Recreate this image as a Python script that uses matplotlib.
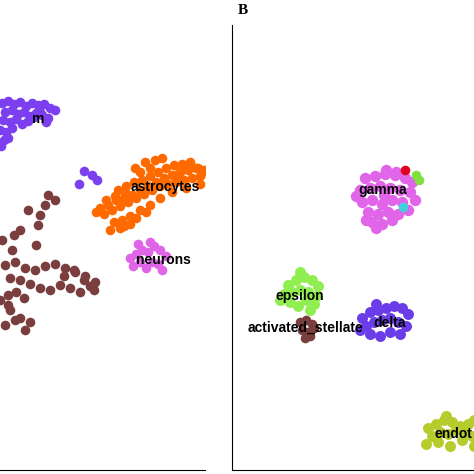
import matplotlib
matplotlib.use("Agg")
import matplotlib.pyplot as plt

# Left panel clusters (pixel-like coordinates, y downward)
purpleL_x = [2,8,14,20,26,32,38,44,50,55,5,12,18,24,30,36,42,48,3,10,16,22,28,34,40,46,0,6,12,4,1,8]
purpleL_y = [103,101,104,102,106,103,105,104,108,110,112,110,114,112,116,113,115,118,120,122,119,124,121,117,112,122,130,132,128,140,146,138]
purple_small_x = [84,92,97,79]
purple_small_y = [171,175,180,184]
orange_x = [100,108,116,124,132,140,148,156,164,172,180,188,196,204,210,104,112,120,128,136,144,152,160,168,176,184,192,200,208,
            118,126,134,142,150,158,166,174,182,190,198,114,122,130,140,150,96,106,124,136,146,160,172,186,200,
            110,120,130,115,125,135,145,155,162,140,150,178,190]
orange_y = [208,205,200,198,195,190,186,182,178,175,172,170,168,170,176,214,210,206,202,198,194,190,186,184,182,180,178,176,172,
            190,186,182,180,176,172,168,165,164,166,168,222,220,216,210,205,212,200,226,218,212,198,192,188,184,
            230,228,224,196,192,168,162,160,158,172,168,174,162]
brown_x = [5,15,25,35,45,55,65,75,85,95,10,20,30,40,50,0,8,16,24,60,70,80,90,64,74,84,94,10,20,30,5,15,25,40,28,45,38,55,48,2,12,36,20,8,14]
brown_y = [265,262,268,270,266,264,268,272,276,282,278,280,284,288,290,300,295,292,298,285,288,292,286,276,270,280,290,310,318,322,325,320,330,215,210,205,225,200,195,240,250,245,230,305,235]
magenta_x = [130,136,142,148,154,160,166,133,140,146,152,158,138,150,162]
magenta_y = [258,254,250,252,246,250,256,266,262,268,262,264,244,242,270]

# Right panel clusters
gamma_x = [365,375,385,395,405,412,360,370,380,390,400,410,362,372,382,392,402,368,378,388,398,408,372,382,392,386,396,376,366,356,415,384]
gamma_y = [178,176,174,175,178,182,190,188,186,188,190,192,202,200,204,200,202,212,214,212,214,210,222,224,220,170,172,228,220,196,200,195]
gamma_red_x = [405]; gamma_red_y = [170]
gamma_green_x = [416,419]; gamma_green_y = [175,180]
gamma_cyan_x = [403]; gamma_cyan_y = [207]
eps_x = [288,296,304,312,318,284,292,300,308,316,290,298,306,314,300,310,280]
eps_y = [285,280,277,280,286,294,292,290,292,296,302,306,300,304,272,310,300]
stel_x = [300,306,312,302,308,314,305,310]
stel_y = [322,320,324,330,332,328,338,336]
delta_x = [362,370,378,386,394,402,408,366,374,382,390,398,406,370,380,390,400,376,360]
delta_y = [318,312,310,308,306,308,314,326,322,320,318,322,326,334,336,332,334,304,330]
endo_x = [428,436,444,452,460,468,474,432,440,448,456,464,472,426,438,450,462,474,446]
endo_y = [428,424,420,422,426,424,420,436,432,434,430,432,436,444,442,446,440,446,416]

fig = plt.figure(figsize=(4.74, 4.74), dpi=100)
axL = fig.add_axes([0, 4/474, 205/474, 470/474])
axR = fig.add_axes([232/474, 4/474, 242/474, 445/474])
axL.set_xlim(0, 205); axL.set_ylim(470, 0)
axR.set_xlim(232, 474); axR.set_ylim(470, 25)

s = 48
axL.scatter(purpleL_x, purpleL_y, s=s, c="#7B3FF0", lw=0)
axL.scatter(purple_small_x, purple_small_y, s=s, c="#7B3FF0", lw=0)
axL.scatter(brown_x, brown_y, s=s, c="#7A3E3E", lw=0)
axL.scatter(orange_x, orange_y, s=s, c="#FF6A00", lw=0)
axL.scatter(magenta_x, magenta_y, s=s, c="#E065E8", lw=0)
axR.scatter(gamma_x, gamma_y, s=s*1.4, c="#E065E8", lw=0)
axR.scatter(gamma_red_x, gamma_red_y, s=s, c="#E00020", lw=0)
axR.scatter(gamma_green_x, gamma_green_y, s=s, c="#80E040", lw=0)
axR.scatter(gamma_cyan_x, gamma_cyan_y, s=s, c="#40D0E0", lw=0)
axR.scatter(eps_x, eps_y, s=s*1.3, c="#90EE50", lw=0)
axR.scatter(stel_x, stel_y, s=s, c="#7A3E3E", lw=0)
axR.scatter(delta_x, delta_y, s=s*1.3, c="#6A3DE8", lw=0)
axR.scatter(endo_x, endo_y, s=s*1.3, c="#B5CC2C", lw=0)

kw = dict(fontsize=10, fontweight="bold", ha="center", va="center", family="Liberation Sans")
axL.text(38, 119, "m", **kw)
axL.text(165, 187, "astrocytes", **kw)
axL.text(163, 260, "neurons", **kw)
axR.text(383, 190, "gamma", **kw)
axR.text(300, 296, "epsilon", **kw)
axR.text(305, 328, "activated_stellate", **kw)
axR.text(390, 323, "delta", **kw)
axR.text(453, 434, "endot", **kw)

for ax in (axL, axR):
    ax.set_xticks([]); ax.set_yticks([])
    ax.spines["top"].set_visible(False)
    ax.spines["right"].set_visible(False)
axL.spines["left"].set_visible(False)
fig.text(243/474, 1 - 10/474, "B", fontsize=11, fontweight="bold", ha="center", va="center", family="Liberation Serif")
fig.savefig("out.png", dpi=100)
